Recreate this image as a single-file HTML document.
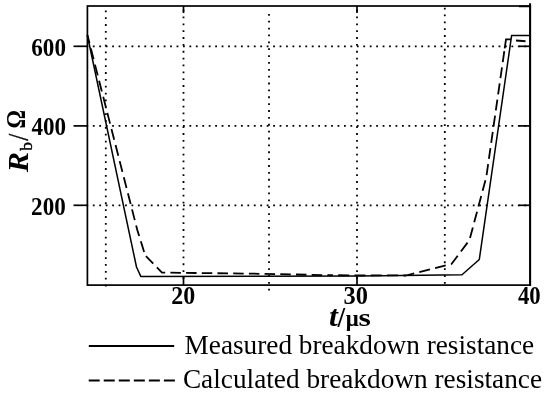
<!DOCTYPE html>
<html>
<head>
<meta charset="utf-8">
<title>Breakdown resistance</title>
<style>
html,body{margin:0;padding:0;background:#fff;}
body{width:550px;height:401px;overflow:hidden;}
svg{display:block;}
text{font-family:"Liberation Serif",serif;fill:#000;}
.b{font-weight:bold;}
.num{font-weight:bold;font-size:23.1px;}
.numx{font-weight:bold;font-size:23.5px;}
.sans{font-family:"Liberation Sans",sans-serif;}
</style>
</head>
<body>
<svg width="550" height="401" viewBox="0 0 550 401">
<rect x="0" y="0" width="550" height="401" fill="#fff"/>
<!-- grid -->
<g stroke="#000" stroke-width="1.8" stroke-dasharray="1.8 4.64" fill="none">
  <line id="h600" x1="86.4" y1="46.3" x2="530" y2="46.3"/>
  <line id="h400" x1="86.4" y1="125.9" x2="530" y2="125.9"/>
  <line id="h200" x1="86.4" y1="205.3" x2="530" y2="205.3"/>
</g>
<g stroke="#000" stroke-width="1.8" stroke-dasharray="1.8 5.056" fill="none">
  <line x1="105.8" y1="10.4" x2="105.8" y2="287"/>
  <line x1="183.5" y1="9.7" x2="183.5" y2="284"/>
  <line x1="269" y1="13.9" x2="269" y2="291" stroke-dasharray="1.8 5.072"/>
  <line x1="357" y1="9.7" x2="357" y2="284"/>
  <line x1="444.8" y1="7.7" x2="444.8" y2="285"/>
</g>
<!-- frame -->
<rect x="87.4" y="6" width="442.8" height="279.1" fill="none" stroke="#000" stroke-width="1.7"/>
<line x1="530.1" y1="3.2" x2="530.1" y2="285.9" stroke="#000" stroke-width="2"/>
<!-- ticks -->
<g stroke="#000" stroke-width="1.7" fill="none">
  <line x1="73.5" y1="46.3" x2="87.4" y2="46.3"/>
  <line x1="73.5" y1="125.9" x2="87.4" y2="125.9"/>
  <line x1="73.5" y1="205.3" x2="87.4" y2="205.3"/>
  <line x1="519" y1="46.3" x2="530" y2="46.3"/>
  <line x1="519" y1="125.9" x2="530" y2="125.9"/>
  <line x1="519" y1="205.3" x2="530" y2="205.3"/>
  <line x1="519" y1="6.4" x2="530" y2="6.4"/>
  <line x1="183.5" y1="6" x2="183.5" y2="13"/>
  <line x1="357" y1="6" x2="357" y2="13"/>
  <line x1="183.5" y1="276.4" x2="183.5" y2="285"/>
  <line x1="357" y1="276.2" x2="357" y2="285"/>
</g>
<!-- curves -->
<polyline fill="none" stroke="#000" stroke-width="1.5" stroke-linejoin="round"
 points="87.3,35 136.5,267 140.8,276.4 360,276.1 462,274.8 479.3,259.5 511.6,35.6 530,35.6"/>
<polyline fill="none" stroke="#000" stroke-width="1.8" stroke-dasharray="11.1 5.5" stroke-dashoffset="2.63" stroke-linejoin="round"
 points="87.4,35 137.3,230 145.2,255.4"/>
<polyline fill="none" stroke="#000" stroke-width="1.8" stroke-dasharray="10.5 5.2" stroke-dashoffset="14.66" stroke-linejoin="round"
 points="145.2,255.4 162,272.6 250,273.6 330,275.2"/>
<polyline fill="none" stroke="#000" stroke-width="1.8" stroke-dasharray="11 5.3" stroke-linejoin="round"
 points="504.3,51.2 486.3,177 469.5,240 451.5,264 406,275.5 330,275.2"/>
<polyline fill="none" stroke="#000" stroke-width="1.8" stroke-linejoin="miter"
 points="511,39.4 506,39.4 504.7,48.4"/>
<line x1="516" y1="40.4" x2="525.5" y2="41.3" stroke="#000" stroke-width="2"/>
<!-- y tick labels -->
<g class="num">
<text transform="translate(31.3,56.2) scale(1,1.135)">600</text>
<text transform="translate(31.4,135.2) scale(1,1.135)">400</text>
<text transform="translate(31.1,214.8) scale(1,1.135)">200</text>
</g>
<!-- x tick labels -->
<g class="numx">
<text transform="translate(171.2,303.8) scale(1.02,1.085)">20</text>
<text transform="translate(343.6,303.8) scale(1.04,1.085)">30</text>
<text transform="translate(517.9,303.8) scale(0.967,1.085)">40</text>
</g>
<!-- x label -->
<text class="b"><tspan x="329" y="326.1" font-size="28.4" font-style="italic" textLength="8.84" lengthAdjust="spacingAndGlyphs">t</tspan><tspan x="337.6" y="326.8" font-size="29.8" textLength="7.59" lengthAdjust="spacingAndGlyphs">/</tspan><tspan x="345.8" y="326.1" font-size="24" textLength="12.93" lengthAdjust="spacingAndGlyphs">μ</tspan><tspan x="358.6" y="326.1" font-size="24.3" textLength="12.31" lengthAdjust="spacingAndGlyphs">s</tspan></text>
<!-- y label -->
<text transform="rotate(-90)"><tspan x="-172.3" y="28" font-size="30.4" font-weight="bold" font-style="italic">R</tspan><tspan x="-150.8" y="31.7" font-size="17.5" stroke="#000" stroke-width="0.45">b</tspan><tspan x="-140.7" y="27.6" font-size="29.8" stroke="#000" stroke-width="0.4" textLength="7.12" lengthAdjust="spacingAndGlyphs">/</tspan><tspan x="-128.5" y="25.2" font-size="26.68" font-weight="bold" textLength="18.65" lengthAdjust="spacingAndGlyphs">Ω</tspan></text>
<!-- legend -->
<line x1="88.8" y1="346" x2="174.2" y2="346" stroke="#000" stroke-width="1.8"/>
<line x1="88.7" y1="380.5" x2="174.9" y2="380.5" stroke="#000" stroke-width="2" stroke-dasharray="11 4.04"/>
<text id="leg1" transform="translate(184.6,353.8) scale(0.9635,1)" font-size="28.3">Measured breakdown resistance</text>
<text id="leg2" transform="translate(182.9,388.4) scale(0.9645,1)" font-size="28.3">Calculated breakdown resistance</text>
</svg>
</body>
</html>
